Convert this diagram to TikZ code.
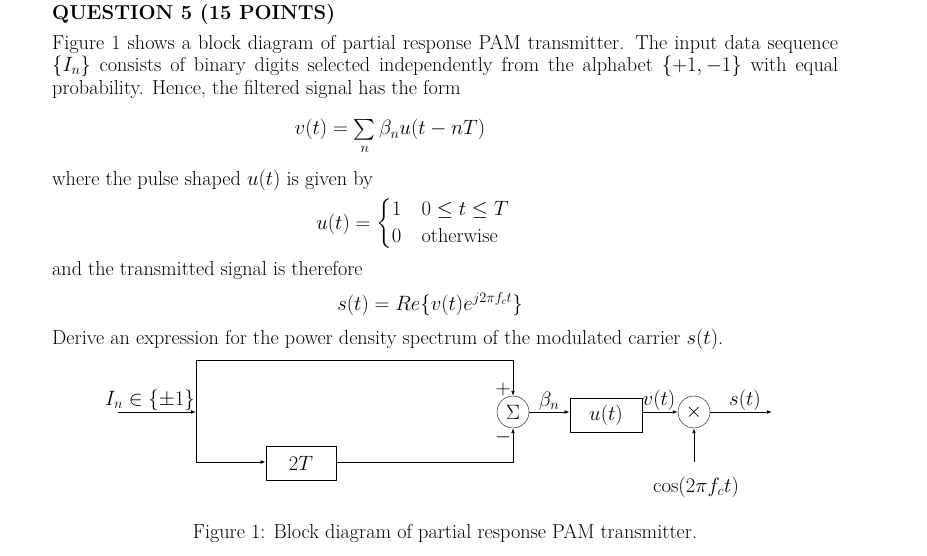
\documentclass[tikz,border=0pt]{standalone}
\usepackage{amsmath}
\usetikzlibrary{arrows.meta}
\begin{document}
\begin{tikzpicture}[x=1pt,y=-1pt,
  every node/.style={font=\fontsize{20.2}{22.3}\selectfont},
  blk/.style={draw,thick,minimum height=34pt,inner sep=0},
  crc/.style={draw,circle,minimum size=32pt,inner sep=0},
  ln/.style={thick},
  ar/.style={thick,-{Latex[length=5pt]}},
  txt/.style={anchor=north west,text width=786pt,align=justify,inner sep=0}]
\useasboundingbox (0,0) rectangle (927,556);
\node[anchor=west,inner sep=0,font=\fontsize{20.2}{22}\selectfont\bfseries] (title) at (52,14) {QUESTION 5 (15 POINTS)};
\node[txt] (p1) at (52,35) {Figure 1 shows a block diagram of partial response PAM transmitter. The input data sequence $\{I_n\}$ consists of binary digits selected independently from the alphabet $\{+1,-1\}$ with equal probability. Hence, the filtered signal has the form};
\node (e1) at (390,137) {$v(t)=\sum\limits_n \beta_n u(t-nT)$};
\node[anchor=west,inner sep=0] (p2) at (52,180) {where the pulse shaped $u(t)$ is given by};
\node (e2) at (413,224) {$u(t)=\begin{cases}1 & 0\le t\le T\\ 0 & \text{otherwise}\end{cases}$};
\node[anchor=west,inner sep=0] (p3) at (52,270) {and the transmitted signal is therefore};
\node (e3) at (430,304) {$s(t)=Re\{v(t)e^{j2\pi f_c t}\}$};
\node[anchor=west,inner sep=0] (p4) at (52,339) {Derive an expression for the power density spectrum of the modulated carrier $s(t)$.};
% diagram
\coordinate (in) at (118,412);
\coordinate (j) at (196,412);
\coordinate (jt) at (196,360);
\coordinate (jb) at (196,462);
\node[blk,minimum width=70pt] (d) at (301,463) {$2T$};
\node[crc] (sum) at (513,412) {$\Sigma$};
\node[blk,minimum width=72pt] (u) at (606,415) {$u(t)$};
\node[crc] (mul) at (694,412) {$\times$};
\coordinate (out) at (772,412);
\coordinate (cos) at (694,462);
\draw[ar] (in) -- (j);
\draw[ln] (jt) -- (jb);
\draw[ar] (jt) -- (jt -| sum) -- (sum.north);
\draw[ar] (jb) -- (d.west |- jb);
\draw[ar] (d.east |- jb) -- (jb -| sum) -- (sum.south);
\draw[ar] (sum.east) -- (u.west |- sum);
\draw[ar] (u.east |- mul) -- (mul.west);
\draw[ar] (mul.east) -- (out);
\draw[ar] (cos) -- (mul.south);
\node[anchor=south,inner sep=1pt] (lin) at (150,412) {$I_n\in\{\pm1\}$};
\node[inner sep=0] (lp) at (503,389) {$+$};
\node[inner sep=0] (lm) at (503,437) {$-$};
\node[anchor=south,inner sep=1pt] (lb) at (549,412) {$\beta_n$};
\node[anchor=south,inner sep=1pt] (lv) at (659,412) {$v(t)$};
\node[anchor=south,inner sep=1pt] (ls) at (745,412) {$s(t)$};
\node (lc) at (696,487) {$\cos(2\pi f_c t)$};
\node (cap) at (445,533) {Figure 1: Block diagram of partial response PAM transmitter.};
\end{tikzpicture}
\end{document}
